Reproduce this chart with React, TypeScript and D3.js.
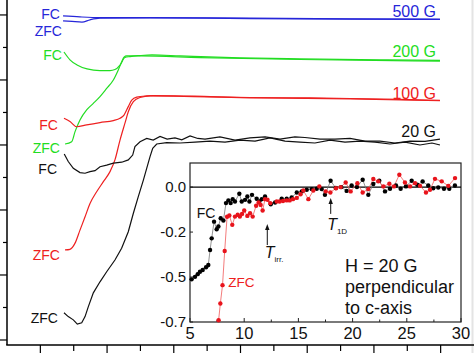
import * as d3 from "d3";

const W = 474;
const H = 353;
const FONT = "'Liberation Sans', Arial, Helvetica, sans-serif";

const BLUE = "#2626d9";
const GREEN = "#22dd22";
const RED = "#ee2020";
const BLACK = "#111";

// main panel, temperature (K) vs magnetisation (arb. units)
const blueFC = [[6.7, 9.97], [7.97, 9.94], [9.47, 9.92], [13.22, 9.92], [20.71, 9.9], [28.21, 9.88], [34.95, 9.87]];
const blueZFC = [[6.7, 9.82], [7.37, 9.8], [8.12, 9.78], [8.72, 9.85], [9.47, 9.9], [13.22, 9.91], [20.71, 9.89], [28.21, 9.87], [34.95, 9.86]];

const greenFC = [[6.77, 8.86], [7.22, 8.62], [7.75, 8.46], [8.5, 8.34], [9.47, 8.29], [10.22, 8.29], [10.59, 8.32], [10.97, 8.46], [11.34, 8.69], [11.72, 8.72], [12.47, 8.75], [13.37, 8.77], [15.47, 8.74], [19.96, 8.68], [24.46, 8.65], [30.45, 8.62], [34.95, 8.6]];
const greenZFC = [[6.85, 6.03], [7.35, 6.1], [7.6, 6.41], [7.97, 6.77], [8.47, 7.08], [8.97, 7.28], [9.47, 7.49], [9.97, 7.74], [10.47, 8.0], [10.84, 8.31], [11.1, 8.56], [11.27, 8.7], [11.47, 8.74], [12.47, 8.74], [16.96, 8.69], [24.46, 8.63], [34.95, 8.58]];

const redFC = [[6.77, 6.82], [7.22, 6.72], [7.72, 6.56], [8.47, 6.62], [9.47, 6.69], [10.47, 6.75], [10.97, 6.82], [11.27, 6.92], [11.59, 7.18], [11.85, 7.38], [12.22, 7.47], [12.97, 7.51], [13.47, 7.52], [16.5, 7.5], [20.71, 7.46], [24.46, 7.45], [28.21, 7.43], [31.95, 7.4], [34.95, 7.37]];
const redZFC = [[6.85, 2.77], [7.22, 2.79], [7.6, 2.98], [7.97, 3.38], [8.35, 3.79], [8.72, 4.2], [9.22, 4.56], [9.72, 4.87], [10.22, 5.18], [10.59, 5.54], [10.97, 6.15], [11.34, 6.67], [11.59, 7.02], [11.97, 7.33], [12.47, 7.46], [13.22, 7.51], [16.5, 7.49], [20.71, 7.45], [28.21, 7.42], [34.95, 7.36]];

const blackFC = [[6.79, 5.72], [7.09, 5.49], [7.47, 5.28], [7.97, 5.15], [8.35, 5.13], [8.72, 5.18], [9.1, 5.21], [9.47, 5.33], [9.97, 5.38], [10.47, 5.44], [11.1, 5.47], [11.59, 5.54], [11.92, 5.69], [12.09, 5.95], [12.47, 6.1], [12.97, 6.2], [13.46, 6.15], [13.97, 6.26], [14.5, 6.18], [15.09, 6.22], [15.6, 6.16], [16.22, 6.28], [16.8, 6.2], [17.34, 6.18], [18.46, 6.25], [19.59, 6.15], [20.71, 6.22], [21.84, 6.25], [22.96, 6.18], [24.08, 6.25], [24.83, 6.23], [25.96, 6.18], [27.08, 6.18], [28.21, 6.2], [29.33, 6.12], [30.45, 6.12], [31.58, 6.06], [32.7, 6.12], [33.83, 6.11], [34.95, 6.18]];
const blackZFC = [[6.77, 0.84], [7.09, 0.72], [7.47, 0.62], [7.77, 0.49], [8.1, 0.53], [8.35, 0.72], [8.59, 1.02], [8.97, 1.45], [9.47, 1.79], [9.97, 2.1], [10.59, 2.46], [11.09, 2.82], [11.59, 3.33], [11.97, 3.9], [12.34, 4.41], [12.72, 4.92], [12.97, 5.28], [13.22, 5.64], [13.42, 5.9], [13.72, 6.03], [14.47, 6.07], [15.47, 6.06], [16.59, 6.09], [17.71, 6.12], [18.84, 6.09], [19.96, 6.15], [21.09, 6.12], [22.21, 6.22], [23.34, 6.12], [24.46, 6.09], [25.58, 6.06], [26.71, 6.15], [27.83, 6.09], [28.96, 6.12], [30.08, 6.09], [31.2, 6.03], [32.33, 6.09], [33.45, 6.0], [34.35, 6.06], [34.95, 6.0]];

const curves = [
  { data: blueFC, color: BLUE, smooth: true },
  { data: blueZFC, color: BLUE, smooth: true },
  { data: greenFC, color: GREEN, smooth: true },
  { data: greenZFC, color: GREEN, smooth: true },
  { data: redFC, color: RED, smooth: true },
  { data: redZFC, color: RED, smooth: true },
  { data: blackFC, color: BLACK, smooth: false },
  { data: blackZFC, color: BLACK, smooth: false },
];

const curveLabels = [
  { text: "FC", t: 6.47, m: 9.88, color: BLUE },
  { text: "ZFC", t: 6.62, m: 9.34, color: BLUE },
  { text: "FC", t: 6.62, m: 8.62, color: GREEN },
  { text: "FC", t: 6.32, m: 6.45, color: RED },
  { text: "ZFC", t: 6.47, m: 5.74, color: GREEN },
  { text: "FC", t: 6.25, m: 5.11, color: BLACK },
  { text: "ZFC", t: 6.47, m: 2.45, color: RED },
  { text: "ZFC", t: 6.32, m: 0.52, color: BLACK },
];

const fieldLabels = ["500 G", "200 G", "100 G", "20 G"];
const fieldLabelM = [9.94, 8.7, 7.41, 6.24];
const fieldColors = [BLUE, GREEN, RED, BLACK];

// inset: H = 20 G, difference signal
const insetFC = [[5.15, -0.513], [5.46, -0.499], [5.71, -0.484], [5.92, -0.471], [6.17, -0.461], [6.48, -0.446], [6.69, -0.433], [6.85, -0.35], [7.0, -0.285], [7.22, -0.192], [7.46, -0.234], [7.62, -0.219], [7.83, -0.173], [8.08, -0.186], [8.32, -0.089], [8.54, -0.074], [8.75, -0.089], [8.94, -0.067], [9.15, -0.08], [9.55, -0.037], [9.77, -0.08], [10.08, -0.071], [10.29, -0.052], [10.48, -0.08], [10.72, -0.043], [11.15, -0.065], [11.4, -0.08], [11.62, -0.067], [11.92, -0.052], [12.45, -0.095], [12.85, -0.086], [13.46, -0.065], [13.92, -0.065], [14.38, -0.058], [14.85, -0.03], [15.31, -0.024], [15.77, -0.015], [16.23, -0.011], [16.69, -0.009], [17.15, -0.011], [17.45, -0.043], [17.97, 0.035], [18.45, -0.005], [18.95, 0.0], [19.45, -0.021], [19.91, 0.009], [20.4, 0.0], [20.93, 0.041], [21.45, -0.043], [21.91, 0.017], [22.46, 0.035], [22.99, -0.024], [23.45, -0.009], [24.0, 0.009], [24.43, -0.009], [24.92, 0.004], [25.45, 0.035], [25.97, 0.013], [26.46, 0.031], [26.98, 0.009], [27.44, -0.006], [27.9, -0.002], [28.43, -0.009], [28.92, -0.009], [29.44, 0.009]];
const insetZFC = [[7.64, -0.74], [7.8, -0.647], [8.0, -0.545], [8.2, -0.355], [8.42, -0.165], [8.63, -0.158], [8.9, -0.21], [9.15, -0.164], [9.4, -0.154], [9.6, -0.164], [9.8, -0.149], [10.0, -0.13], [10.29, -0.16], [10.54, -0.145], [10.78, -0.164], [11.1, -0.104], [11.33, -0.086], [11.52, -0.099], [11.7, -0.13], [11.92, -0.067], [12.15, -0.07], [12.4, -0.089], [13.0, -0.08], [13.27, -0.08], [13.58, -0.077], [13.92, -0.074], [14.2, -0.074], [14.5, -0.067], [14.85, -0.06], [15.2, -0.04], [15.46, -0.019], [15.92, -0.067], [16.38, -0.019], [16.93, 0.004], [17.52, -0.024], [17.95, -0.03], [18.47, -0.006], [18.9, 0.0], [19.36, 0.026], [19.82, -0.024], [20.44, 0.022], [20.93, -0.03], [21.45, -0.011], [21.91, 0.045], [22.37, 0.032], [22.84, 0.004], [23.39, 0.019], [23.82, 0.004], [24.31, 0.069], [24.83, 0.026], [25.3, 0.004], [25.76, 0.022], [26.22, 0.007], [26.77, -0.03], [27.14, -0.015], [27.6, 0.046], [28.22, 0.032], [28.83, 0.007], [29.45, 0.05]];

const insetXTicks = [5, 10, 15, 20, 25, 30];
const insetYTicks = [0, -0.25, -0.5, -0.75];
const insetYLabels = ["0.0", "-0.2", "-0.5", "-0.7"];
const insetNote = ["H = 20 G", "perpendicular", "to c-axis"];

const App = () => {
  // main axes
  const x = d3.scaleLinear().domain([2.5, 37.5]).range([7, 474]);
  const y = d3.scaleLinear().domain([-0.154, 10.46]).range([345, 0]);
  const xTicks = d3.range(5, 35.1, 2.5);
  const yTicks = d3.range(0, 10.1, 1);

  // inset box
  const box = { left: 190, right: 461, top: 163, bottom: 322 };
  const xi = d3.scaleLinear().domain([5, 30]).range([box.left, box.right]);
  const yi = d3.scaleLinear().domain([-0.75, 0.134]).range([box.bottom, box.top]);
  const xiMinor = d3.range(7.5, 30, 5);

  const line = (smooth) =>
    d3
      .line()
      .x((d) => x(d[0]))
      .y((d) => y(d[1]))
      .curve(smooth ? d3.curveMonotoneX : d3.curveLinear);
  const insetLine = d3
    .line()
    .x((d) => xi(d[0]))
    .y((d) => yi(d[1]));

  const arrow = (t, v0, v1) => {
    const ax = xi(t);
    const top = yi(v0);
    const bot = yi(v1);
    return (
      <g>
        <line x1={ax} x2={ax} y1={top + 4} y2={bot} stroke="#111" strokeWidth={1} />
        <path d={`M${ax},${top} L${ax - 2.2},${top + 6} L${ax + 2.2},${top + 6} Z`} fill="#111" />
      </g>
    );
  };

  return (
    <svg width={W} height={H} style={{ position: "absolute", left: 0, top: 0 }} fontFamily={FONT}>
      <rect width={W} height={H} fill="#fff" />
      <line x1={472.5} x2={472.5} y1={0} y2={H} stroke="#e4e4e4" strokeWidth={2} />

      {curves.map((c, i) => (
        <path key={i} d={line(c.smooth)(c.data)} fill="none" stroke={c.color} strokeWidth={1.2} />
      ))}

      {curveLabels.map((l, i) => (
        <text key={i} x={x(l.t)} y={y(l.m)} fill={l.color} fontSize={14} textAnchor="end">
          {l.text}
        </text>
      ))}
      {fieldLabels.map((l, i) => (
        <text key={l} x={x(34.65)} y={y(fieldLabelM[i])} fill={fieldColors[i]} fontSize={16} textAnchor="end">
          {l}
        </text>
      ))}

      {/* main axes */}
      <line x1={7} x2={7} y1={0} y2={345} stroke="#000" strokeWidth={1.5} />
      <line x1={6.25} x2={W} y1={345} y2={345} stroke="#000" strokeWidth={1.5} />
      {yTicks.map((t) => (
        <line key={t} x1={t % 2 === 0 ? 0 : 3} x2={7} y1={y(t)} y2={y(t)} stroke="#000" strokeWidth={1.2} />
      ))}
      {xTicks.map((t) => (
        <line key={t} x1={x(t)} x2={x(t)} y1={345} y2={t % 5 === 0 ? 354 : 351} stroke="#000" strokeWidth={1.2} />
      ))}

      {/* inset */}
      <rect x={box.left} y={box.top} width={box.right - box.left} height={box.bottom - box.top} fill="#fff" stroke="#222" strokeWidth={1.2} />
      <line x1={box.left} x2={box.right} y1={yi(0)} y2={yi(0)} stroke="#000" strokeWidth={1.3} />
      {insetXTicks.map((t) => (
        <g key={t}>
          <line x1={xi(t)} x2={xi(t)} y1={box.bottom} y2={box.bottom - 4} stroke="#222" />
          <text x={xi(t)} y={338.5} fontSize={16.5} textAnchor="middle" fill="#111">
            {t}
          </text>
        </g>
      ))}
      {xiMinor.map((t) => (
        <line key={t} x1={xi(t)} x2={xi(t)} y1={box.bottom} y2={box.bottom - 2.5} stroke="#222" />
      ))}
      {insetYTicks.map((t, i) => (
        <g key={t}>
          <line x1={box.left} x2={box.left + 3} y1={yi(t)} y2={yi(t)} stroke="#222" />
          <text x={186} y={yi(t)} dy="0.35em" fontSize={15} textAnchor="end" fill="#111">
            {insetYLabels[i]}
          </text>
        </g>
      ))}

      <path d={insetLine(insetFC)} fill="none" stroke="#777" strokeWidth={0.8} />
      <path d={insetLine(insetZFC)} fill="none" stroke="#f05a5a" strokeWidth={0.8} />
      {insetFC.map((d, i) => (
        <circle key={"f" + i} cx={xi(d[0])} cy={yi(d[1])} r={2.2} fill="#000" />
      ))}
      {insetZFC.map((d, i) => (
        <circle key={"z" + i} cx={xi(d[0])} cy={yi(d[1])} r={2.2} fill="#e8141c" />
      ))}

      <text x={xi(5.62)} y={yi(-0.171)} fontSize={14} fill="#111">FC</text>
      <text x={xi(8.53)} y={yi(-0.558)} fontSize={13.5} fill={RED}>ZFC</text>

      {arrow(12.13, -0.205, -0.322)}
      <text x={xi(11.9)} y={258} fontSize={16} fill="#111">
        <tspan fontStyle="italic">T</tspan>
        <tspan fontSize={8} dy={4}>irr.</tspan>
      </text>
      {arrow(17.98, -0.061, -0.149)}
      <text x={xi(17.65)} y={230} fontSize={16} fill="#111">
        <tspan fontStyle="italic">T</tspan>
        <tspan fontSize={8} dy={4}>1D</tspan>
      </text>

      {insetNote.map((s, i) => (
        <text key={s} x={345} y={272 + i * 20.8} fontSize={18} fill="#111">
          {s}
        </text>
      ))}
    </svg>
  );
};

export default App;
